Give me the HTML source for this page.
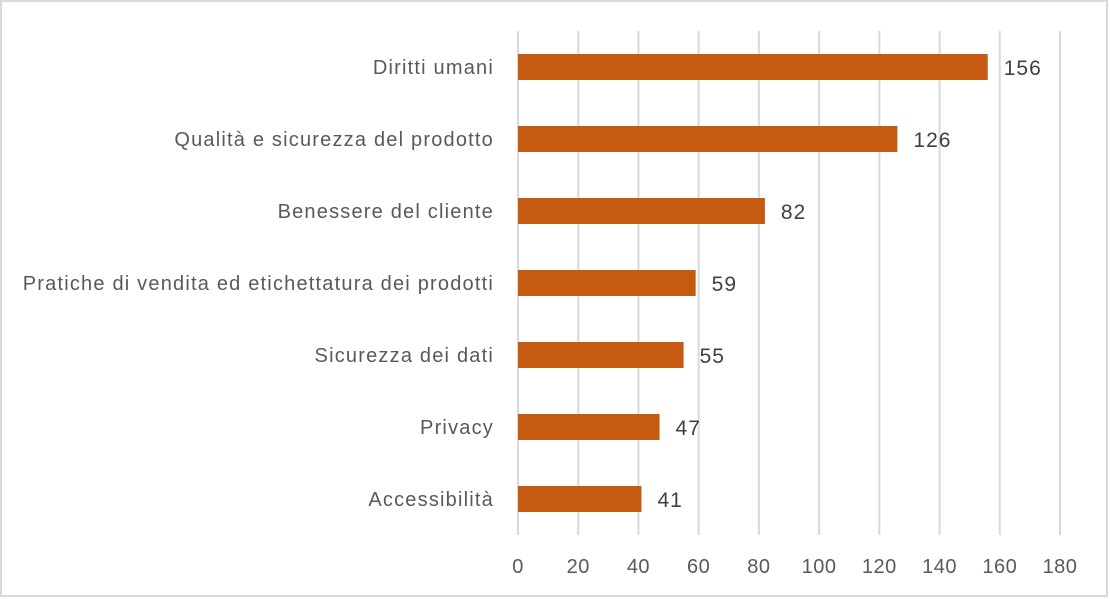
<!DOCTYPE html>
<html><head><meta charset="utf-8"><style>
body{margin:0;background:#fff;}
svg{display:block;font-family:"Liberation Sans",sans-serif;}
</style></head><body>
<svg id="chart" width="1110" height="599">
<rect x="1" y="1" width="1106" height="595" fill="#fff" stroke="#d9d9d9" stroke-width="2"/>
<g id="grid"></g><g id="bars"></g><g id="labels"></g>
</svg>
<script>
const categories=["Diritti umani","Qualità e sicurezza del prodotto","Benessere del cliente","Pratiche di vendita ed etichettatura dei prodotti","Sicurezza dei dati","Privacy","Accessibilità"];
const values=[156,126,82,59,55,47,41];
const ticks=[0,20,40,60,80,100,120,140,160,180];
const NS="http://www.w3.org/2000/svg";
const x0=518,x1=1060,maxV=180,plotTop=31,plotBottom=535;
const xs=v=>x0+(v/maxV)*(x1-x0);
const band=(plotBottom-plotTop)/categories.length;
const yc=i=>plotTop+band*(i+0.5);
function mk(tag,attrs,parent){const e=document.createElementNS(NS,tag);for(const k in attrs)e.setAttribute(k,attrs[k]);parent.appendChild(e);return e;}
const grid=document.getElementById('grid'),bars=document.getElementById('bars'),labels=document.getElementById('labels');
ticks.forEach(t=>{
  const l=mk('line',{x1:xs(t),x2:xs(t),y1:plotTop,y2:plotBottom,stroke:'#d9d9d9','stroke-width':2},grid);
  
  
  const tx=mk('text',{x:xs(t),y:573,'text-anchor':'middle','font-size':20,'letter-spacing':0.5,fill:'#595959'},labels);
  tx.textContent=t;
  
  
});
categories.forEach((c,i)=>{
  const y=yc(i);
  const r=mk('rect',{x:x0,y:y-13,width:xs(values[i])-x0,height:26,fill:'#c55a11'},bars);
  
  
  const cl=mk('text',{x:494,y:y+7,'text-anchor':'end','font-size':20,'letter-spacing':1.2,fill:'#595959'},labels);
  cl.textContent=c;
  
  
  const vl=mk('text',{x:xs(values[i])+16,y:y+8,'font-size':21,'letter-spacing':1,fill:'#404040'},labels);
  vl.textContent=values[i];
  
  
});
</script>
</body></html>
